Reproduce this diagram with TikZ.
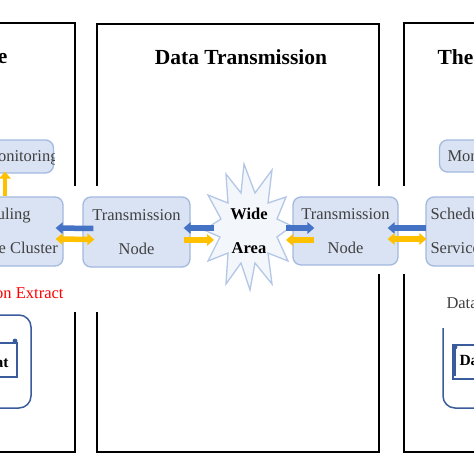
\documentclass[tikz,border=0pt]{standalone}
\usepackage{fontspec}
\setmainfont{Liberation Serif}
\usetikzlibrary{calc}
\usetikzlibrary{arrows.meta}

\begin{document}
\begin{tikzpicture}[x=1pt, y=-1pt, line width=1pt,
        pan/.style={draw=black,line width=1.8pt,line cap=rect},
        box/.style={draw=bxline,fill=bxfill,rounded corners=8pt,line width=1.3pt,
                    text=txt,align=center,font=\fontsize{16.5}{34}\selectfont},
        lbl/.style={text=txt,align=left,inner sep=0pt,font=\fontsize{16.5}{34}\selectfont},
        ttl/.style={inner sep=0pt,font=\fontsize{21.5}{26}\selectfont\bfseries},
        scr/.style={inner sep=0pt,font=\fontsize{15.5}{18}\selectfont\bfseries},
        barr/.style={draw=blu,line width=5.5pt,-{Triangle[width=11.5pt,length=7pt]}},
        yarr/.style={draw=yel,line width=5.5pt,-{Triangle[width=11.5pt,length=7pt]}},
        yarrb/.style={draw=yel,line width=5.5pt,{Triangle[width=11.5pt,length=7pt]}-{Triangle[width=11.5pt,length=7pt]}},
        cont/.style={draw=cblue,line width=1.5pt,rounded corners=12pt}]
      \definecolor{bxfill}{HTML}{DAE3F3}
      \definecolor{bxline}{HTML}{A3B9E0}
      \definecolor{txt}{HTML}{404040}
      \definecolor{blu}{HTML}{4472C4}
      \definecolor{yel}{HTML}{FFC000}
      \definecolor{cblue}{HTML}{3A5C9C}
      \definecolor{stfill}{HTML}{F3F6FB}
      \definecolor{stline}{HTML}{B4C7E7}
      \useasboundingbox[fill=white] (0,0) rectangle (474,474);

      % three panels, open where the links cross
      \draw[pan] (-5,23) -- (75,23) -- (75,185);
      \draw[pan] (75,313) -- (75,452) -- (-5,452);
      \draw[pan] (97,185) -- (97,24) -- (379,24) -- (379,185);
      \draw[pan] (97,313) -- (97,452) -- (379,452) -- (379,275);
      \draw[pan] (480,23) -- (404,23) -- (404,185);
      \draw[pan] (404,275) -- (404,452) -- (480,452);

      \node[ttl,anchor=east] (tleft) at (8,57) {Data Source};
      \node[ttl] (tmid) at (241,57) {Data Transmission};
      \node[ttl,anchor=west] (tright) at (437,57) {The Cloud};

      % left side
      \node[box,minimum width=123pt,minimum height=33pt] (monL) at (-8,156.5) {};
      \begin{scope}
        \clip (monL.south west) rectangle (monL.north east);
        \node[lbl,anchor=east] (monLtxt) at (59,158) {Monitoring};
      \end{scope}
      \node[box,minimum width=138pt,minimum height=69pt] (schedL) at (-6,231.5) {};
      \node[lbl,anchor=west] (schedLtxt) at (-44,231) {Scheduling\\Service Cluster};
      \node[text=red,inner sep=0pt,anchor=east,font=\fontsize{16.5}{20}\selectfont] (extr) at (64,293) {Information Extract};
      \draw[cont] (-60,315) rectangle (31,408);
      \draw[cblue,line width=1.3pt,fill=white] (-60,343) rectangle (17,377);
      \draw[cblue,line width=1.3pt] (15,343) -- (15,339);
      \fill[cblue] (15,341) circle (2.4);
      \node[scr,anchor=east] (fmt) at (9,362) {Format};

      % transmission
      \node[box,minimum width=107pt,minimum height=70pt] (transL) at (136.5,232) {Transmission\\Node};
      \node[box,minimum width=105pt,minimum height=68pt] (transR) at (345.5,231) {Transmission\\Node};
      \begin{scope}[shift={(248,228)}]
        \draw[draw=stline,fill=stfill,line width=1.3pt,line join=miter]
          (44,-2) -- (29,-9) -- (38,-31) -- (20,-25) -- (24,-58) -- (7,-35)
          -- (-4,-64) -- (-7,-35) -- (-22,-54) -- (-20,-25) -- (-40,-33) -- (-27,-9)
          -- (-44,2) -- (-28,9) -- (-40,33) -- (-20,25) -- (-22,56) -- (-7,35)
          -- (2,62) -- (7,35) -- (24,56) -- (20,25) -- (40,33) -- (29,9) -- cycle;
      \end{scope}
      \node[font=\fontsize{16.5}{34}\selectfont\bfseries,align=center,inner sep=0pt] (wide) at (249,230.5) {Wide\\Area};

      % right side
      \node[box,minimum width=134pt,minimum height=69pt] (schedR) at (493,231.5) {};
      \node[lbl,anchor=west] (schedRtxt) at (430,231) {Scheduling\\Service Cluster};
      \node[box,minimum width=121pt,minimum height=32pt] (monR) at (500,156) {};
      \node[lbl,anchor=west] (monRtxt) at (447,158) {Monitoring};
      \node[lbl,anchor=west] (store) at (446,305) {Data Storage};
      \draw[cont] (443,328) |- (490,408);
      \draw[cblue,line width=1.3pt,fill=white] (453,345) rectangle (500,379);
      \draw[cblue,line width=1.3pt] (455,345) -- (455,376);
      \fill[cblue] (455,347) circle (2.4);
      \node[scr,anchor=west] (dsc) at (459,360) {Data};

      % links
      \draw[yarr,line width=4.5pt] ($(schedL.north)+(11,0)$) -- ($(monL.south)+(13,-2)$);
      \draw[barr] ($(transL.west)+(11,-3.5)$) -- ($(schedL.east)+(-8,-3.5)$);
      \draw[yarrb] ($(schedL.east)+(-8,7.5)$) -- ($(transL.west)+(12,7.5)$);
      \draw[barr] ($(wide)+(-35,-2.5)$) -- ($(transL.east)+(-7,-4)$);
      \draw[yarr] ($(transL.east)+(-7,8)$) -- ($(wide)+(-35,9.5)$);
      \draw[barr] ($(wide)+(37,-2.5)$) -- ($(transR.west)+(22,-3)$);
      \draw[yarr] ($(transR.west)+(22,9)$) -- ($(wide)+(37,9.5)$);
      \draw[barr] ($(schedR.west)+(1,-3.5)$) -- ($(transR.east)+(-11,-3)$);
      \draw[yarrb] ($(transR.east)+(-11,8)$) -- ($(schedR.west)+(1,7.5)$);
\end{tikzpicture}
\end{document}
